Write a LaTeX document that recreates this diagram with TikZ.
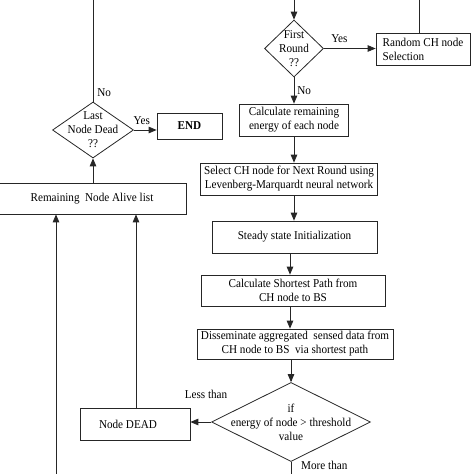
\documentclass[tikz,border=0pt]{standalone}
\usepackage{fontspec}
\setmainfont{Liberation Serif}[FakeStretch=0.93]
\usetikzlibrary{arrows,shapes.geometric}

\tikzset{
  box/.style={draw=black!85, line width=0.8pt, rectangle, inner sep=2pt,
    align=center, font=\fontsize{12}{14}\selectfont},
  decide/.style={draw=black!85, line width=0.8pt, diamond, inner sep=0pt},
  dtext/.style={align=center, font=\fontsize{12}{14}\selectfont},
  lbl/.style={font=\fontsize{12}{14}\selectfont, inner sep=1pt},
  line/.style={draw=black!85, line width=0.8pt},
  arr/.style={line, -triangle 45},
}

\begin{document}
\begin{tikzpicture}[x=1pt,y=-1pt]
    % rahmen
    \useasboundingbox (0,0) rectangle (474,474);
    \clip (0,0) rectangle (474,474);

    % rechte spalte
    \node[decide, minimum width=59pt, minimum height=57pt,
      label={[dtext]center:First\\Round\\??}] (first) at (294,48.5) {};
    \node[box, minimum width=94pt, minimum height=32pt, align=left] (random) at (423,49)
      {Random CH node\\Selection};
    \node[box, minimum width=109pt, minimum height=32pt] (calc) at (294,120)
      {Calculate remaining\\energy of each node};
    \node[box, minimum width=177pt, minimum height=32pt] (select) at (289,179)
      {Select CH node for Next Round using\\Levenberg-Marquardt neural network};
    \node[box, minimum width=165pt, minimum height=32pt] (steady) at (294.5,237)
      {Steady state Initialization};
    \node[box, minimum width=184pt, minimum height=31pt] (path) at (293,290.5)
      {Calculate Shortest Path from\\CH node to BS};
    \node[box, minimum width=196pt, minimum height=30pt] (send) at (295,344)
      {Disseminate aggregated\ \ sensed data from\\CH node to BS\ \ via shortest path};
    \node[decide, minimum width=159pt, minimum height=79pt,
      label={[dtext]center:if\\energy of node > threshold\\value}] (thr) at (291,422) {};

    % linke spalte
    \node[decide, minimum width=81pt, minimum height=56pt,
      label={[dtext]center:Last\\Node Dead\\??}] (last) at (93,130) {};
    \node[box, minimum width=65pt, minimum height=26pt, font=\fontsize{12}{14}\selectfont\bfseries] (end) at (189.5,126) {END};
    \node[box, minimum width=188pt, minimum height=31pt] (alive) at (92,198.5)
      {Remaining\ \ Node Alive list};
    \node[box, minimum width=110pt, minimum height=32pt] (dead) at (135,424)
      {Node DEAD\hspace{14pt}};

    % freie enden
    \coordinate (topL) at (93,-5);
    \coordinate (topR) at (294,-5);
    \coordinate (botL) at (56,480);
    \coordinate (botR) at (291,480);

    % verbindungen rechts
    \draw[arr] (topR) -- (first.north);
    \draw[arr] (first.east) -- node[lbl, pos=0.3, above=4pt]{Yes} (first.east -| random.west);
    \draw[line] (random.north -| 419,0) -- (419,-5);
    \draw[arr] (first.south) -- node[lbl, right=2pt]{No} (first.south |- calc.north);
    \draw[arr] (calc.south) -- (calc.south |- select.north);
    \draw[arr] (calc.south |- select.south) -- (calc.south |- steady.north);
    \draw[arr] (290,0 |- steady.south) -- (290,0 |- path.north);
    \draw[arr] (290,0 |- path.south) -- (290,0 |- send.north);
    \draw[arr] (thr.north |- send.south) -- (thr.north);
    \draw[arr] (thr.west) -- (thr.west -| dead.east);
    \node[lbl] (less) at (206,394) {Less than};
    \draw[line] (thr.south) -- (botR);
    \node[lbl, anchor=north west] (more) at (300,460) {More than};

    % verbindungen links
    \draw[line] (last.north) -- node[lbl, pos=0.08, right=3pt]{No} (topL);
    \draw[arr] (last.east) -- node[lbl, pos=0.35, above=4pt]{Yes} (last.east -| end.west);
    \draw[arr] (alive.north -| last.south) -- (last.south);
    \draw[arr] (botL) -- (botL |- alive.south);
    \draw[arr] (dead.north -| 136,0) -- (136,0 |- alive.south);
\end{tikzpicture}
\end{document}
